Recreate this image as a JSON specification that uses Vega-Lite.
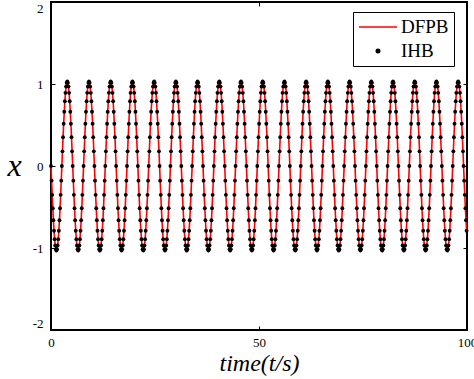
{
"$schema": "https://vega.github.io/schema/vega-lite/v6.json",
"width": 416, "height": 328,
"autosize": {"type": "none"},
"padding": {"left": 51, "top": 2, "right": 7, "bottom": 49},
"background": "white",
"config": {
 "view": {"stroke": "black", "strokeWidth": 2},
 "axis": {"grid": false, "domain": false, "tickColor": "black", "tickSize": -4, "tickWidth": 1, "labelFont": "Liberation Serif", "labelFontSize": 13, "labelColor": "black", "titleColor": "black", "titleFont": "Liberation Serif", "titleFontStyle": "italic", "titleFontWeight": "normal"}
},
"data": {"values": [
{"t":0,"x":0},{"t":0.145,"x":-0.179},{"t":0.29,"x":-0.352},{"t":0.435,"x":-0.515},{"t":0.58,"x":-0.662},{"t":0.725,"x":-0.789},{"t":0.87,"x":-0.892},{"t":1.015,"x":-0.968},{"t":1.16,"x":-1.014},{"t":1.305,"x":-1.03},{"t":1.45,"x":-1.014},{"t":1.595,"x":-0.968},{"t":1.74,"x":-0.892},{"t":1.885,"x":-0.789},{"t":2.03,"x":-0.662},{"t":2.175,"x":-0.515},{"t":2.32,"x":-0.352},{"t":2.465,"x":-0.179},{"t":2.61,"x":0},{"t":2.755,"x":0.179},{"t":2.9,"x":0.352},{"t":3.045,"x":0.515},{"t":3.19,"x":0.662},{"t":3.335,"x":0.789},{"t":3.48,"x":0.892},{"t":3.625,"x":0.968},{"t":3.77,"x":1.014},{"t":3.915,"x":1.03},{"t":4.06,"x":1.014},{"t":4.205,"x":0.968},{"t":4.35,"x":0.892},{"t":4.495,"x":0.789},{"t":4.64,"x":0.662},{"t":4.785,"x":0.515},{"t":4.93,"x":0.352},{"t":5.075,"x":0.179},
{"t":5.22,"x":0},{"t":5.365,"x":-0.179},{"t":5.51,"x":-0.352},{"t":5.655,"x":-0.515},{"t":5.8,"x":-0.662},{"t":5.945,"x":-0.789},{"t":6.09,"x":-0.892},{"t":6.235,"x":-0.968},{"t":6.38,"x":-1.014},{"t":6.525,"x":-1.03},{"t":6.67,"x":-1.014},{"t":6.815,"x":-0.968},{"t":6.96,"x":-0.892},{"t":7.105,"x":-0.789},{"t":7.25,"x":-0.662},{"t":7.395,"x":-0.515},{"t":7.54,"x":-0.352},{"t":7.685,"x":-0.179},{"t":7.83,"x":0},{"t":7.975,"x":0.179},{"t":8.12,"x":0.352},{"t":8.265,"x":0.515},{"t":8.41,"x":0.662},{"t":8.555,"x":0.789},{"t":8.7,"x":0.892},{"t":8.845,"x":0.968},{"t":8.99,"x":1.014},{"t":9.135,"x":1.03},{"t":9.28,"x":1.014},{"t":9.425,"x":0.968},{"t":9.57,"x":0.892},{"t":9.715,"x":0.789},{"t":9.86,"x":0.662},{"t":10.005,"x":0.515},{"t":10.15,"x":0.352},{"t":10.295,"x":0.179},
{"t":10.44,"x":0},{"t":10.585,"x":-0.179},{"t":10.73,"x":-0.352},{"t":10.875,"x":-0.515},{"t":11.02,"x":-0.662},{"t":11.165,"x":-0.789},{"t":11.31,"x":-0.892},{"t":11.455,"x":-0.968},{"t":11.6,"x":-1.014},{"t":11.745,"x":-1.03},{"t":11.89,"x":-1.014},{"t":12.035,"x":-0.968},{"t":12.18,"x":-0.892},{"t":12.325,"x":-0.789},{"t":12.47,"x":-0.662},{"t":12.615,"x":-0.515},{"t":12.76,"x":-0.352},{"t":12.905,"x":-0.179},{"t":13.05,"x":0},{"t":13.195,"x":0.179},{"t":13.34,"x":0.352},{"t":13.485,"x":0.515},{"t":13.63,"x":0.662},{"t":13.775,"x":0.789},{"t":13.92,"x":0.892},{"t":14.065,"x":0.968},{"t":14.21,"x":1.014},{"t":14.355,"x":1.03},{"t":14.5,"x":1.014},{"t":14.645,"x":0.968},{"t":14.79,"x":0.892},{"t":14.935,"x":0.789},{"t":15.08,"x":0.662},{"t":15.225,"x":0.515},{"t":15.37,"x":0.352},{"t":15.515,"x":0.179},
{"t":15.66,"x":0},{"t":15.805,"x":-0.179},{"t":15.95,"x":-0.352},{"t":16.095,"x":-0.515},{"t":16.24,"x":-0.662},{"t":16.385,"x":-0.789},{"t":16.53,"x":-0.892},{"t":16.675,"x":-0.968},{"t":16.82,"x":-1.014},{"t":16.965,"x":-1.03},{"t":17.11,"x":-1.014},{"t":17.255,"x":-0.968},{"t":17.4,"x":-0.892},{"t":17.545,"x":-0.789},{"t":17.69,"x":-0.662},{"t":17.835,"x":-0.515},{"t":17.98,"x":-0.352},{"t":18.125,"x":-0.179},{"t":18.27,"x":0},{"t":18.415,"x":0.179},{"t":18.56,"x":0.352},{"t":18.705,"x":0.515},{"t":18.85,"x":0.662},{"t":18.995,"x":0.789},{"t":19.14,"x":0.892},{"t":19.285,"x":0.968},{"t":19.43,"x":1.014},{"t":19.575,"x":1.03},{"t":19.72,"x":1.014},{"t":19.865,"x":0.968},{"t":20.01,"x":0.892},{"t":20.155,"x":0.789},{"t":20.3,"x":0.662},{"t":20.445,"x":0.515},{"t":20.59,"x":0.352},{"t":20.735,"x":0.179},
{"t":20.88,"x":0},{"t":21.025,"x":-0.179},{"t":21.17,"x":-0.352},{"t":21.315,"x":-0.515},{"t":21.46,"x":-0.662},{"t":21.605,"x":-0.789},{"t":21.75,"x":-0.892},{"t":21.895,"x":-0.968},{"t":22.04,"x":-1.014},{"t":22.185,"x":-1.03},{"t":22.33,"x":-1.014},{"t":22.475,"x":-0.968},{"t":22.62,"x":-0.892},{"t":22.765,"x":-0.789},{"t":22.91,"x":-0.662},{"t":23.055,"x":-0.515},{"t":23.2,"x":-0.352},{"t":23.345,"x":-0.179},{"t":23.49,"x":0},{"t":23.635,"x":0.179},{"t":23.78,"x":0.352},{"t":23.925,"x":0.515},{"t":24.07,"x":0.662},{"t":24.215,"x":0.789},{"t":24.36,"x":0.892},{"t":24.505,"x":0.968},{"t":24.65,"x":1.014},{"t":24.795,"x":1.03},{"t":24.94,"x":1.014},{"t":25.085,"x":0.968},{"t":25.23,"x":0.892},{"t":25.375,"x":0.789},{"t":25.52,"x":0.662},{"t":25.665,"x":0.515},{"t":25.81,"x":0.352},{"t":25.955,"x":0.179},
{"t":26.1,"x":0},{"t":26.245,"x":-0.179},{"t":26.39,"x":-0.352},{"t":26.535,"x":-0.515},{"t":26.68,"x":-0.662},{"t":26.825,"x":-0.789},{"t":26.97,"x":-0.892},{"t":27.115,"x":-0.968},{"t":27.26,"x":-1.014},{"t":27.405,"x":-1.03},{"t":27.55,"x":-1.014},{"t":27.695,"x":-0.968},{"t":27.84,"x":-0.892},{"t":27.985,"x":-0.789},{"t":28.13,"x":-0.662},{"t":28.275,"x":-0.515},{"t":28.42,"x":-0.352},{"t":28.565,"x":-0.179},{"t":28.71,"x":0},{"t":28.855,"x":0.179},{"t":29,"x":0.352},{"t":29.145,"x":0.515},{"t":29.29,"x":0.662},{"t":29.435,"x":0.789},{"t":29.58,"x":0.892},{"t":29.725,"x":0.968},{"t":29.87,"x":1.014},{"t":30.015,"x":1.03},{"t":30.16,"x":1.014},{"t":30.305,"x":0.968},{"t":30.45,"x":0.892},{"t":30.595,"x":0.789},{"t":30.74,"x":0.662},{"t":30.885,"x":0.515},{"t":31.03,"x":0.352},{"t":31.175,"x":0.179},
{"t":31.32,"x":0},{"t":31.465,"x":-0.179},{"t":31.61,"x":-0.352},{"t":31.755,"x":-0.515},{"t":31.9,"x":-0.662},{"t":32.045,"x":-0.789},{"t":32.19,"x":-0.892},{"t":32.335,"x":-0.968},{"t":32.48,"x":-1.014},{"t":32.625,"x":-1.03},{"t":32.77,"x":-1.014},{"t":32.915,"x":-0.968},{"t":33.06,"x":-0.892},{"t":33.205,"x":-0.789},{"t":33.35,"x":-0.662},{"t":33.495,"x":-0.515},{"t":33.64,"x":-0.352},{"t":33.785,"x":-0.179},{"t":33.93,"x":0},{"t":34.075,"x":0.179},{"t":34.22,"x":0.352},{"t":34.365,"x":0.515},{"t":34.51,"x":0.662},{"t":34.655,"x":0.789},{"t":34.8,"x":0.892},{"t":34.945,"x":0.968},{"t":35.09,"x":1.014},{"t":35.235,"x":1.03},{"t":35.38,"x":1.014},{"t":35.525,"x":0.968},{"t":35.67,"x":0.892},{"t":35.815,"x":0.789},{"t":35.96,"x":0.662},{"t":36.105,"x":0.515},{"t":36.25,"x":0.352},{"t":36.395,"x":0.179},
{"t":36.54,"x":0},{"t":36.685,"x":-0.179},{"t":36.83,"x":-0.352},{"t":36.975,"x":-0.515},{"t":37.12,"x":-0.662},{"t":37.265,"x":-0.789},{"t":37.41,"x":-0.892},{"t":37.555,"x":-0.968},{"t":37.7,"x":-1.014},{"t":37.845,"x":-1.03},{"t":37.99,"x":-1.014},{"t":38.135,"x":-0.968},{"t":38.28,"x":-0.892},{"t":38.425,"x":-0.789},{"t":38.57,"x":-0.662},{"t":38.715,"x":-0.515},{"t":38.86,"x":-0.352},{"t":39.005,"x":-0.179},{"t":39.15,"x":0},{"t":39.295,"x":0.179},{"t":39.44,"x":0.352},{"t":39.585,"x":0.515},{"t":39.73,"x":0.662},{"t":39.875,"x":0.789},{"t":40.02,"x":0.892},{"t":40.165,"x":0.968},{"t":40.31,"x":1.014},{"t":40.455,"x":1.03},{"t":40.6,"x":1.014},{"t":40.745,"x":0.968},{"t":40.89,"x":0.892},{"t":41.035,"x":0.789},{"t":41.18,"x":0.662},{"t":41.325,"x":0.515},{"t":41.47,"x":0.352},{"t":41.615,"x":0.179},
{"t":41.76,"x":0},{"t":41.905,"x":-0.179},{"t":42.05,"x":-0.352},{"t":42.195,"x":-0.515},{"t":42.34,"x":-0.662},{"t":42.485,"x":-0.789},{"t":42.63,"x":-0.892},{"t":42.775,"x":-0.968},{"t":42.92,"x":-1.014},{"t":43.065,"x":-1.03},{"t":43.21,"x":-1.014},{"t":43.355,"x":-0.968},{"t":43.5,"x":-0.892},{"t":43.645,"x":-0.789},{"t":43.79,"x":-0.662},{"t":43.935,"x":-0.515},{"t":44.08,"x":-0.352},{"t":44.225,"x":-0.179},{"t":44.37,"x":0},{"t":44.515,"x":0.179},{"t":44.66,"x":0.352},{"t":44.805,"x":0.515},{"t":44.95,"x":0.662},{"t":45.095,"x":0.789},{"t":45.24,"x":0.892},{"t":45.385,"x":0.968},{"t":45.53,"x":1.014},{"t":45.675,"x":1.03},{"t":45.82,"x":1.014},{"t":45.965,"x":0.968},{"t":46.11,"x":0.892},{"t":46.255,"x":0.789},{"t":46.4,"x":0.662},{"t":46.545,"x":0.515},{"t":46.69,"x":0.352},{"t":46.835,"x":0.179},
{"t":46.98,"x":0},{"t":47.125,"x":-0.179},{"t":47.27,"x":-0.352},{"t":47.415,"x":-0.515},{"t":47.56,"x":-0.662},{"t":47.705,"x":-0.789},{"t":47.85,"x":-0.892},{"t":47.995,"x":-0.968},{"t":48.14,"x":-1.014},{"t":48.285,"x":-1.03},{"t":48.43,"x":-1.014},{"t":48.575,"x":-0.968},{"t":48.72,"x":-0.892},{"t":48.865,"x":-0.789},{"t":49.01,"x":-0.662},{"t":49.155,"x":-0.515},{"t":49.3,"x":-0.352},{"t":49.445,"x":-0.179},{"t":49.59,"x":0},{"t":49.735,"x":0.179},{"t":49.88,"x":0.352},{"t":50.025,"x":0.515},{"t":50.17,"x":0.662},{"t":50.315,"x":0.789},{"t":50.46,"x":0.892},{"t":50.605,"x":0.968},{"t":50.75,"x":1.014},{"t":50.895,"x":1.03},{"t":51.04,"x":1.014},{"t":51.185,"x":0.968},{"t":51.33,"x":0.892},{"t":51.475,"x":0.789},{"t":51.62,"x":0.662},{"t":51.765,"x":0.515},{"t":51.91,"x":0.352},{"t":52.055,"x":0.179},
{"t":52.2,"x":0},{"t":52.345,"x":-0.179},{"t":52.49,"x":-0.352},{"t":52.635,"x":-0.515},{"t":52.78,"x":-0.662},{"t":52.925,"x":-0.789},{"t":53.07,"x":-0.892},{"t":53.215,"x":-0.968},{"t":53.36,"x":-1.014},{"t":53.505,"x":-1.03},{"t":53.65,"x":-1.014},{"t":53.795,"x":-0.968},{"t":53.94,"x":-0.892},{"t":54.085,"x":-0.789},{"t":54.23,"x":-0.662},{"t":54.375,"x":-0.515},{"t":54.52,"x":-0.352},{"t":54.665,"x":-0.179},{"t":54.81,"x":0},{"t":54.955,"x":0.179},{"t":55.1,"x":0.352},{"t":55.245,"x":0.515},{"t":55.39,"x":0.662},{"t":55.535,"x":0.789},{"t":55.68,"x":0.892},{"t":55.825,"x":0.968},{"t":55.97,"x":1.014},{"t":56.115,"x":1.03},{"t":56.26,"x":1.014},{"t":56.405,"x":0.968},{"t":56.55,"x":0.892},{"t":56.695,"x":0.789},{"t":56.84,"x":0.662},{"t":56.985,"x":0.515},{"t":57.13,"x":0.352},{"t":57.275,"x":0.179},
{"t":57.42,"x":0},{"t":57.565,"x":-0.179},{"t":57.71,"x":-0.352},{"t":57.855,"x":-0.515},{"t":58,"x":-0.662},{"t":58.145,"x":-0.789},{"t":58.29,"x":-0.892},{"t":58.435,"x":-0.968},{"t":58.58,"x":-1.014},{"t":58.725,"x":-1.03},{"t":58.87,"x":-1.014},{"t":59.015,"x":-0.968},{"t":59.16,"x":-0.892},{"t":59.305,"x":-0.789},{"t":59.45,"x":-0.662},{"t":59.595,"x":-0.515},{"t":59.74,"x":-0.352},{"t":59.885,"x":-0.179},{"t":60.03,"x":0},{"t":60.175,"x":0.179},{"t":60.32,"x":0.352},{"t":60.465,"x":0.515},{"t":60.61,"x":0.662},{"t":60.755,"x":0.789},{"t":60.9,"x":0.892},{"t":61.045,"x":0.968},{"t":61.19,"x":1.014},{"t":61.335,"x":1.03},{"t":61.48,"x":1.014},{"t":61.625,"x":0.968},{"t":61.77,"x":0.892},{"t":61.915,"x":0.789},{"t":62.06,"x":0.662},{"t":62.205,"x":0.515},{"t":62.35,"x":0.352},{"t":62.495,"x":0.179},
{"t":62.64,"x":0},{"t":62.785,"x":-0.179},{"t":62.93,"x":-0.352},{"t":63.075,"x":-0.515},{"t":63.22,"x":-0.662},{"t":63.365,"x":-0.789},{"t":63.51,"x":-0.892},{"t":63.655,"x":-0.968},{"t":63.8,"x":-1.014},{"t":63.945,"x":-1.03},{"t":64.09,"x":-1.014},{"t":64.235,"x":-0.968},{"t":64.38,"x":-0.892},{"t":64.525,"x":-0.789},{"t":64.67,"x":-0.662},{"t":64.815,"x":-0.515},{"t":64.96,"x":-0.352},{"t":65.105,"x":-0.179},{"t":65.25,"x":0},{"t":65.395,"x":0.179},{"t":65.54,"x":0.352},{"t":65.685,"x":0.515},{"t":65.83,"x":0.662},{"t":65.975,"x":0.789},{"t":66.12,"x":0.892},{"t":66.265,"x":0.968},{"t":66.41,"x":1.014},{"t":66.555,"x":1.03},{"t":66.7,"x":1.014},{"t":66.845,"x":0.968},{"t":66.99,"x":0.892},{"t":67.135,"x":0.789},{"t":67.28,"x":0.662},{"t":67.425,"x":0.515},{"t":67.57,"x":0.352},{"t":67.715,"x":0.179},
{"t":67.86,"x":0},{"t":68.005,"x":-0.179},{"t":68.15,"x":-0.352},{"t":68.295,"x":-0.515},{"t":68.44,"x":-0.662},{"t":68.585,"x":-0.789},{"t":68.73,"x":-0.892},{"t":68.875,"x":-0.968},{"t":69.02,"x":-1.014},{"t":69.165,"x":-1.03},{"t":69.31,"x":-1.014},{"t":69.455,"x":-0.968},{"t":69.6,"x":-0.892},{"t":69.745,"x":-0.789},{"t":69.89,"x":-0.662},{"t":70.035,"x":-0.515},{"t":70.18,"x":-0.352},{"t":70.325,"x":-0.179},{"t":70.47,"x":0},{"t":70.615,"x":0.179},{"t":70.76,"x":0.352},{"t":70.905,"x":0.515},{"t":71.05,"x":0.662},{"t":71.195,"x":0.789},{"t":71.34,"x":0.892},{"t":71.485,"x":0.968},{"t":71.63,"x":1.014},{"t":71.775,"x":1.03},{"t":71.92,"x":1.014},{"t":72.065,"x":0.968},{"t":72.21,"x":0.892},{"t":72.355,"x":0.789},{"t":72.5,"x":0.662},{"t":72.645,"x":0.515},{"t":72.79,"x":0.352},{"t":72.935,"x":0.179},
{"t":73.08,"x":0},{"t":73.225,"x":-0.179},{"t":73.37,"x":-0.352},{"t":73.515,"x":-0.515},{"t":73.66,"x":-0.662},{"t":73.805,"x":-0.789},{"t":73.95,"x":-0.892},{"t":74.095,"x":-0.968},{"t":74.24,"x":-1.014},{"t":74.385,"x":-1.03},{"t":74.53,"x":-1.014},{"t":74.675,"x":-0.968},{"t":74.82,"x":-0.892},{"t":74.965,"x":-0.789},{"t":75.11,"x":-0.662},{"t":75.255,"x":-0.515},{"t":75.4,"x":-0.352},{"t":75.545,"x":-0.179},{"t":75.69,"x":0},{"t":75.835,"x":0.179},{"t":75.98,"x":0.352},{"t":76.125,"x":0.515},{"t":76.27,"x":0.662},{"t":76.415,"x":0.789},{"t":76.56,"x":0.892},{"t":76.705,"x":0.968},{"t":76.85,"x":1.014},{"t":76.995,"x":1.03},{"t":77.14,"x":1.014},{"t":77.285,"x":0.968},{"t":77.43,"x":0.892},{"t":77.575,"x":0.789},{"t":77.72,"x":0.662},{"t":77.865,"x":0.515},{"t":78.01,"x":0.352},{"t":78.155,"x":0.179},
{"t":78.3,"x":0},{"t":78.445,"x":-0.179},{"t":78.59,"x":-0.352},{"t":78.735,"x":-0.515},{"t":78.88,"x":-0.662},{"t":79.025,"x":-0.789},{"t":79.17,"x":-0.892},{"t":79.315,"x":-0.968},{"t":79.46,"x":-1.014},{"t":79.605,"x":-1.03},{"t":79.75,"x":-1.014},{"t":79.895,"x":-0.968},{"t":80.04,"x":-0.892},{"t":80.185,"x":-0.789},{"t":80.33,"x":-0.662},{"t":80.475,"x":-0.515},{"t":80.62,"x":-0.352},{"t":80.765,"x":-0.179},{"t":80.91,"x":0},{"t":81.055,"x":0.179},{"t":81.2,"x":0.352},{"t":81.345,"x":0.515},{"t":81.49,"x":0.662},{"t":81.635,"x":0.789},{"t":81.78,"x":0.892},{"t":81.925,"x":0.968},{"t":82.07,"x":1.014},{"t":82.215,"x":1.03},{"t":82.36,"x":1.014},{"t":82.505,"x":0.968},{"t":82.65,"x":0.892},{"t":82.795,"x":0.789},{"t":82.94,"x":0.662},{"t":83.085,"x":0.515},{"t":83.23,"x":0.352},{"t":83.375,"x":0.179},
{"t":83.52,"x":0},{"t":83.665,"x":-0.179},{"t":83.81,"x":-0.352},{"t":83.955,"x":-0.515},{"t":84.1,"x":-0.662},{"t":84.245,"x":-0.789},{"t":84.39,"x":-0.892},{"t":84.535,"x":-0.968},{"t":84.68,"x":-1.014},{"t":84.825,"x":-1.03},{"t":84.97,"x":-1.014},{"t":85.115,"x":-0.968},{"t":85.26,"x":-0.892},{"t":85.405,"x":-0.789},{"t":85.55,"x":-0.662},{"t":85.695,"x":-0.515},{"t":85.84,"x":-0.352},{"t":85.985,"x":-0.179},{"t":86.13,"x":0},{"t":86.275,"x":0.179},{"t":86.42,"x":0.352},{"t":86.565,"x":0.515},{"t":86.71,"x":0.662},{"t":86.855,"x":0.789},{"t":87,"x":0.892},{"t":87.145,"x":0.968},{"t":87.29,"x":1.014},{"t":87.435,"x":1.03},{"t":87.58,"x":1.014},{"t":87.725,"x":0.968},{"t":87.87,"x":0.892},{"t":88.015,"x":0.789},{"t":88.16,"x":0.662},{"t":88.305,"x":0.515},{"t":88.45,"x":0.352},{"t":88.595,"x":0.179},
{"t":88.74,"x":0},{"t":88.885,"x":-0.179},{"t":89.03,"x":-0.352},{"t":89.175,"x":-0.515},{"t":89.32,"x":-0.662},{"t":89.465,"x":-0.789},{"t":89.61,"x":-0.892},{"t":89.755,"x":-0.968},{"t":89.9,"x":-1.014},{"t":90.045,"x":-1.03},{"t":90.19,"x":-1.014},{"t":90.335,"x":-0.968},{"t":90.48,"x":-0.892},{"t":90.625,"x":-0.789},{"t":90.77,"x":-0.662},{"t":90.915,"x":-0.515},{"t":91.06,"x":-0.352},{"t":91.205,"x":-0.179},{"t":91.35,"x":0},{"t":91.495,"x":0.179},{"t":91.64,"x":0.352},{"t":91.785,"x":0.515},{"t":91.93,"x":0.662},{"t":92.075,"x":0.789},{"t":92.22,"x":0.892},{"t":92.365,"x":0.968},{"t":92.51,"x":1.014},{"t":92.655,"x":1.03},{"t":92.8,"x":1.014},{"t":92.945,"x":0.968},{"t":93.09,"x":0.892},{"t":93.235,"x":0.789},{"t":93.38,"x":0.662},{"t":93.525,"x":0.515},{"t":93.67,"x":0.352},{"t":93.815,"x":0.179},
{"t":93.96,"x":0},{"t":94.105,"x":-0.179},{"t":94.25,"x":-0.352},{"t":94.395,"x":-0.515},{"t":94.54,"x":-0.662},{"t":94.685,"x":-0.789},{"t":94.83,"x":-0.892},{"t":94.975,"x":-0.968},{"t":95.12,"x":-1.014},{"t":95.265,"x":-1.03},{"t":95.41,"x":-1.014},{"t":95.555,"x":-0.968},{"t":95.7,"x":-0.892},{"t":95.845,"x":-0.789},{"t":95.99,"x":-0.662},{"t":96.135,"x":-0.515},{"t":96.28,"x":-0.352},{"t":96.425,"x":-0.179},{"t":96.57,"x":0},{"t":96.715,"x":0.179},{"t":96.86,"x":0.352},{"t":97.005,"x":0.515},{"t":97.15,"x":0.662},{"t":97.295,"x":0.789},{"t":97.44,"x":0.892},{"t":97.585,"x":0.968},{"t":97.73,"x":1.014},{"t":97.875,"x":1.03},{"t":98.02,"x":1.014},{"t":98.165,"x":0.968},{"t":98.31,"x":0.892},{"t":98.455,"x":0.789},{"t":98.6,"x":0.662},{"t":98.745,"x":0.515},{"t":98.89,"x":0.352},{"t":99.035,"x":0.179},
{"t":99.18,"x":0},{"t":99.325,"x":-0.179},{"t":99.47,"x":-0.352},{"t":99.615,"x":-0.515},{"t":99.76,"x":-0.662},{"t":99.905,"x":-0.789}
]},
"layer": [
 {"mark": {"type": "line", "strokeWidth": 1.6},
  "encoding": {
   "x": {"field": "t", "type": "quantitative", "scale": {"domain": [0, 100], "nice": false}, "axis": {"orient": "bottom", "values": [0, 50, 100], "labelFlush": false, "labelFont": "Liberation Serif", "labelFontSize": 13, "title": "time(t/s)", "titleFont": "Liberation Serif", "titleFontStyle": "italic", "titleFontSize": 24, "labelPadding": 10, "titleY": 40, "titleBaseline": "alphabetic"}},
   "y": {"field": "x", "type": "quantitative", "scale": {"domain": [-2, 2], "nice": false}, "axis": {"orient": "left", "values": [-2, -1, 0, 1, 2], "labelExpr": "datum.value + ''", "labelFont": "Liberation Serif", "labelFontSize": 13, "title": "x", "titleFont": "Liberation Serif", "titleFontStyle": "italic", "titleFontSize": 32, "titleAngle": 0, "titleX": -37, "titleY": 173, "titleAlign": "center", "titleBaseline": "alphabetic", "labelFlush": true, "labelPadding": 12}},
   "color": {"datum": "DFPB", "type": "nominal", "scale": {"domain": ["DFPB", "IHB"], "range": ["red", "black"]},
    "legend": {"orient": "none", "legendX": 302, "legendY": 10, "title": null, "strokeColor": "black", "fillColor": "white", "padding": 5, "labelFont": "Liberation Serif", "labelFontSize": 19, "labelColor": "black", "symbolSize": 1444, "symbolType": "stroke", "symbolStrokeWidth": 1.6, "clipHeight": 20, "rowPadding": 4, "labelOffset": 3,
     "encode": {"symbols": {"update": {
      "shape": {"signal": "(datum.value === 'DFPB' ? 'stroke' : 'M-0.09,0A0.09,0.09 0 1,0 0.09,0A0.09,0.09 0 1,0 -0.09,0Z')"},
      "stroke": {"signal": "(datum.value === 'DFPB' ? 'red' : 'transparent')"},
      "fill": {"signal": "(datum.value === 'DFPB' ? 'transparent' : 'black')"},
      "opacity": {"value": 1}
     }}}}}
  }},
 {"mark": {"type": "point", "filled": true, "size": 15, "opacity": 1, "strokeWidth": 0},
  "encoding": {
   "x": {"field": "t", "type": "quantitative", "axis": {"orient": "top", "values": [0, 50, 100], "labels": false, "title": null}},
   "y": {"field": "x", "type": "quantitative", "axis": {"orient": "right", "values": [-2, -1, 0, 1, 2], "labels": false, "title": null}},
   "color": {"datum": "IHB", "type": "nominal"}
  }}
],
"resolve": {"axis": {"x": "independent", "y": "independent"}}
}
